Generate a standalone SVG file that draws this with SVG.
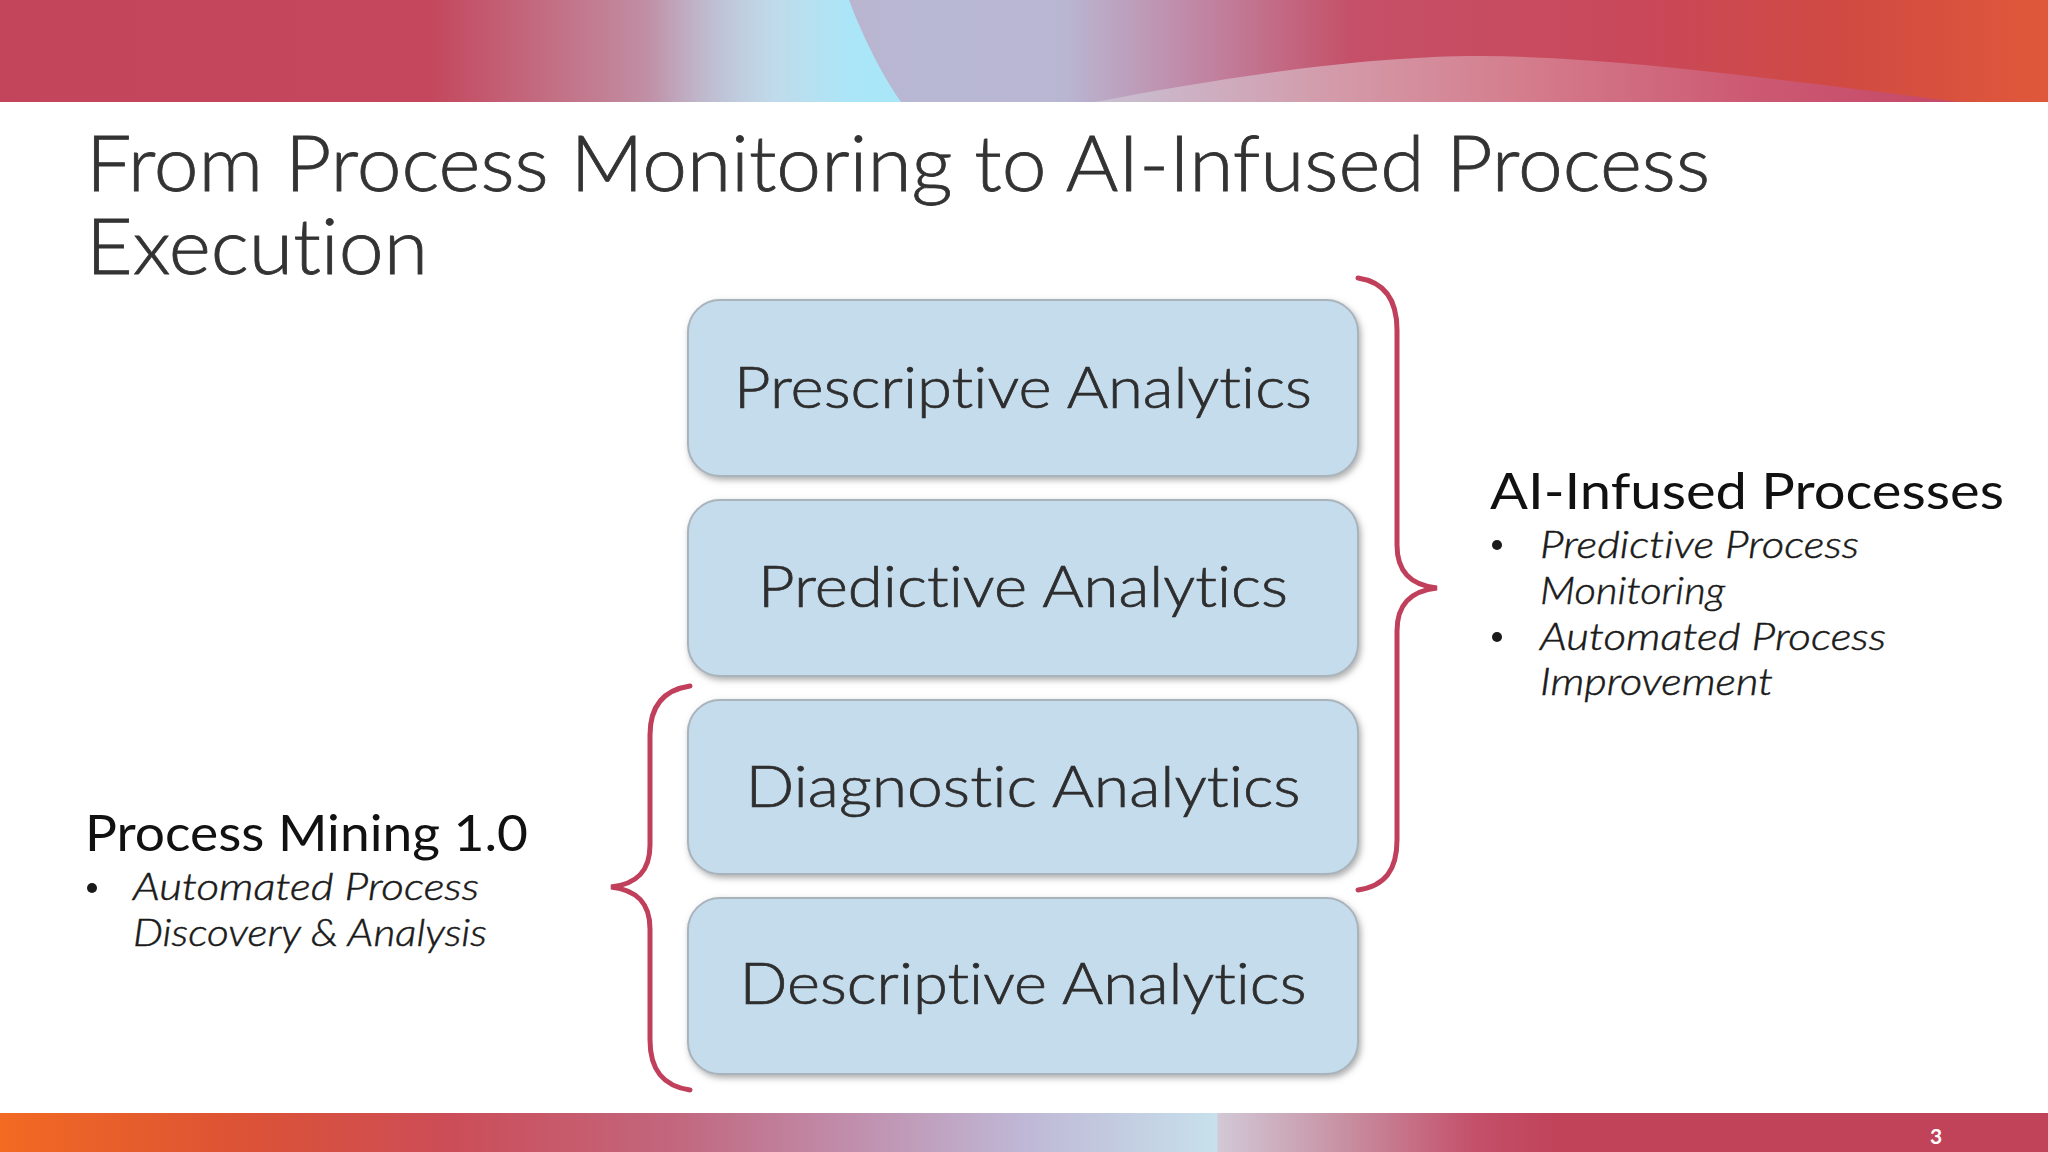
<svg xmlns="http://www.w3.org/2000/svg" width="2048" height="1152" viewBox="0 0 2048 1152">
<defs>
<style>
text{font-variant-ligatures:none}
.box{fill:#c5dced;stroke:#a9b3bb;stroke-width:2;filter:url(#sh)}
.boxt{font-family:Lato,"Liberation Sans",sans-serif;font-size:58px;font-weight:300;fill:#2e2e2e;stroke:#2e2e2e;stroke-width:0.7;text-anchor:middle}
.title{font-family:Lato,"Liberation Sans",sans-serif;font-size:76px;font-weight:300;fill:#333;stroke:#333;stroke-width:0.8}
.head{font-family:Lato,"Liberation Sans",sans-serif;font-size:50px;fill:#111}
.bul{font-family:Lato,"Liberation Sans",sans-serif;font-size:37px;font-style:italic;font-weight:300;fill:#1a1a1a;stroke:#1a1a1a;stroke-width:0.5}
.brace{fill:none;stroke:#c0405c;stroke-width:5;stroke-linecap:round}
.dot{fill:#1a1a1a}
</style>
<filter id="sh" x="-5%" y="-10%" width="110%" height="125%">
<feDropShadow dx="2" dy="3" stdDeviation="3" flood-color="#6a6a6a" flood-opacity="0.55"/>
</filter>
<linearGradient id="topg" x1="0" y1="0" x2="2048" y2="0" gradientUnits="userSpaceOnUse">
<stop offset="0" stop-color="#c3455c"/>
<stop offset="0.21" stop-color="#c4475d"/>
<stop offset="0.3" stop-color="#c28398"/>
<stop offset="0.36" stop-color="#bcb0c8"/>
<stop offset="0.45" stop-color="#b8b8d4"/>
<stop offset="0.52" stop-color="#b9b6d2"/>
<stop offset="0.58" stop-color="#c08aa8"/>
<stop offset="0.66" stop-color="#c55068"/>
<stop offset="0.8" stop-color="#c9485a"/>
<stop offset="0.9" stop-color="#d04a42"/>
<stop offset="1" stop-color="#e0583a"/>
</linearGradient>
<linearGradient id="cyan" x1="650" y1="0" x2="900" y2="0" gradientUnits="userSpaceOnUse">
<stop offset="0" stop-color="#c4d8e8" stop-opacity="0"/>
<stop offset="0.5" stop-color="#c0e2f0" stop-opacity="0.85"/>
<stop offset="0.8" stop-color="#aae6f8"/>
<stop offset="1" stop-color="#a8e6f8"/>
</linearGradient>
<linearGradient id="wave" x1="1095" y1="0" x2="1960" y2="0" gradientUnits="userSpaceOnUse">
<stop offset="0" stop-color="#c8c0d4"/>
<stop offset="0.3" stop-color="#d497a6"/>
<stop offset="0.5" stop-color="#d47c8c"/>
<stop offset="0.75" stop-color="#cc5a72"/>
<stop offset="1" stop-color="#c54868"/>
</linearGradient>
<linearGradient id="botg" x1="0" y1="0" x2="2048" y2="0" gradientUnits="userSpaceOnUse">
<stop offset="0" stop-color="#f26a22"/>
<stop offset="0.12" stop-color="#dc5236"/>
<stop offset="0.22" stop-color="#cc4d58"/>
<stop offset="0.33" stop-color="#c2677e"/>
<stop offset="0.42" stop-color="#c090ae"/>
<stop offset="0.5" stop-color="#bfb8d6"/>
<stop offset="0.57" stop-color="#c5d6e6"/>
<stop offset="0.594" stop-color="#c8e0ec"/>
<stop offset="0.595" stop-color="#d2c8d6"/>
<stop offset="0.65" stop-color="#c896a8"/>
<stop offset="0.72" stop-color="#c4506a"/>
<stop offset="0.76" stop-color="#c0435a"/>
<stop offset="1" stop-color="#c0435a"/>
</linearGradient>
</defs>
<rect width="2048" height="1152" fill="#ffffff"/>
<g id="top-band">
<rect x="0" y="0" width="2048" height="102" fill="url(#topg)"/>
<path d="M640,0 L849,0 C864,40 884,78 901,102 L640,102 Z" fill="url(#cyan)"/>
<path d="M1095,102 C1250,72 1380,56 1480,56 C1620,57 1780,80 1960,102 Z" fill="url(#wave)"/>
</g>
<g id="bottom-band">
<rect x="0" y="1113" width="2048" height="39" fill="url(#botg)"/>
<text x="1936" y="1144" font-family="Lato,'Liberation Sans',sans-serif" font-size="21" font-weight="bold" fill="#ffffff" text-anchor="middle">3</text>
</g>
<g id="title">
<text class="title" x="86" y="191" textLength="1624" lengthAdjust="spacingAndGlyphs">From Process Monitoring to AI-Infused Process</text>
<text class="title" x="86" y="274" textLength="342" lengthAdjust="spacingAndGlyphs">Execution</text>
</g>
<g id="connectors">
<path id="brace-ai" class="brace" d="M1358,278 C1385,282 1397,300 1397,330 L1397,545 C1397,571 1410,585 1437,588 C1410,591 1397,605 1397,631 L1397,840 C1397,870 1385,886 1358,890"/>
<path id="brace-pm" class="brace" d="M690,686 C663,690 650,706 650,735 L650,845 C650,871 637,884 611,887 C637,890 650,903 650,929 L650,1040 C650,1070 663,1086 690,1090"/>
</g>
<g id="prescriptive">
<rect class="box" x="688" y="300" width="670" height="176" rx="32"/>
<text class="boxt" x="1023" y="408" textLength="578" lengthAdjust="spacingAndGlyphs">Prescriptive Analytics</text>
</g>
<g id="predictive">
<rect class="box" x="688" y="500" width="670" height="176" rx="32"/>
<text class="boxt" x="1023" y="607" textLength="530" lengthAdjust="spacingAndGlyphs">Predictive Analytics</text>
</g>
<g id="diagnostic">
<rect class="box" x="688" y="700" width="670" height="174" rx="32"/>
<text class="boxt" x="1023" y="807" textLength="555" lengthAdjust="spacingAndGlyphs">Diagnostic Analytics</text>
</g>
<g id="descriptive">
<rect class="box" x="688" y="898" width="670" height="176" rx="32"/>
<text class="boxt" x="1023" y="1004" textLength="567" lengthAdjust="spacingAndGlyphs">Descriptive Analytics</text>
</g>
<g id="ai-infused">
<text class="head" x="1490" y="509" textLength="514" lengthAdjust="spacingAndGlyphs">AI-Infused Processes</text>
<circle class="dot" cx="1497" cy="545" r="5"/>
<text class="bul" x="1540" y="558" textLength="319" lengthAdjust="spacingAndGlyphs">Predictive Process</text>
<text class="bul" x="1540" y="604" textLength="185" lengthAdjust="spacingAndGlyphs">Monitoring</text>
<circle class="dot" cx="1497" cy="637" r="5"/>
<text class="bul" x="1540" y="650" textLength="346" lengthAdjust="spacingAndGlyphs">Automated Process</text>
<text class="bul" x="1540" y="695" textLength="233" lengthAdjust="spacingAndGlyphs">Improvement</text>
</g>
<g id="process-mining">
<text class="head" x="85" y="851" textLength="443" lengthAdjust="spacingAndGlyphs">Process Mining 1.0</text>
<circle class="dot" cx="92" cy="888" r="5"/>
<text class="bul" x="133" y="900" textLength="346" lengthAdjust="spacingAndGlyphs">Automated Process</text>
<text class="bul" x="133" y="946" textLength="354" lengthAdjust="spacingAndGlyphs">Discovery &amp; Analysis</text>
</g>
</svg>
